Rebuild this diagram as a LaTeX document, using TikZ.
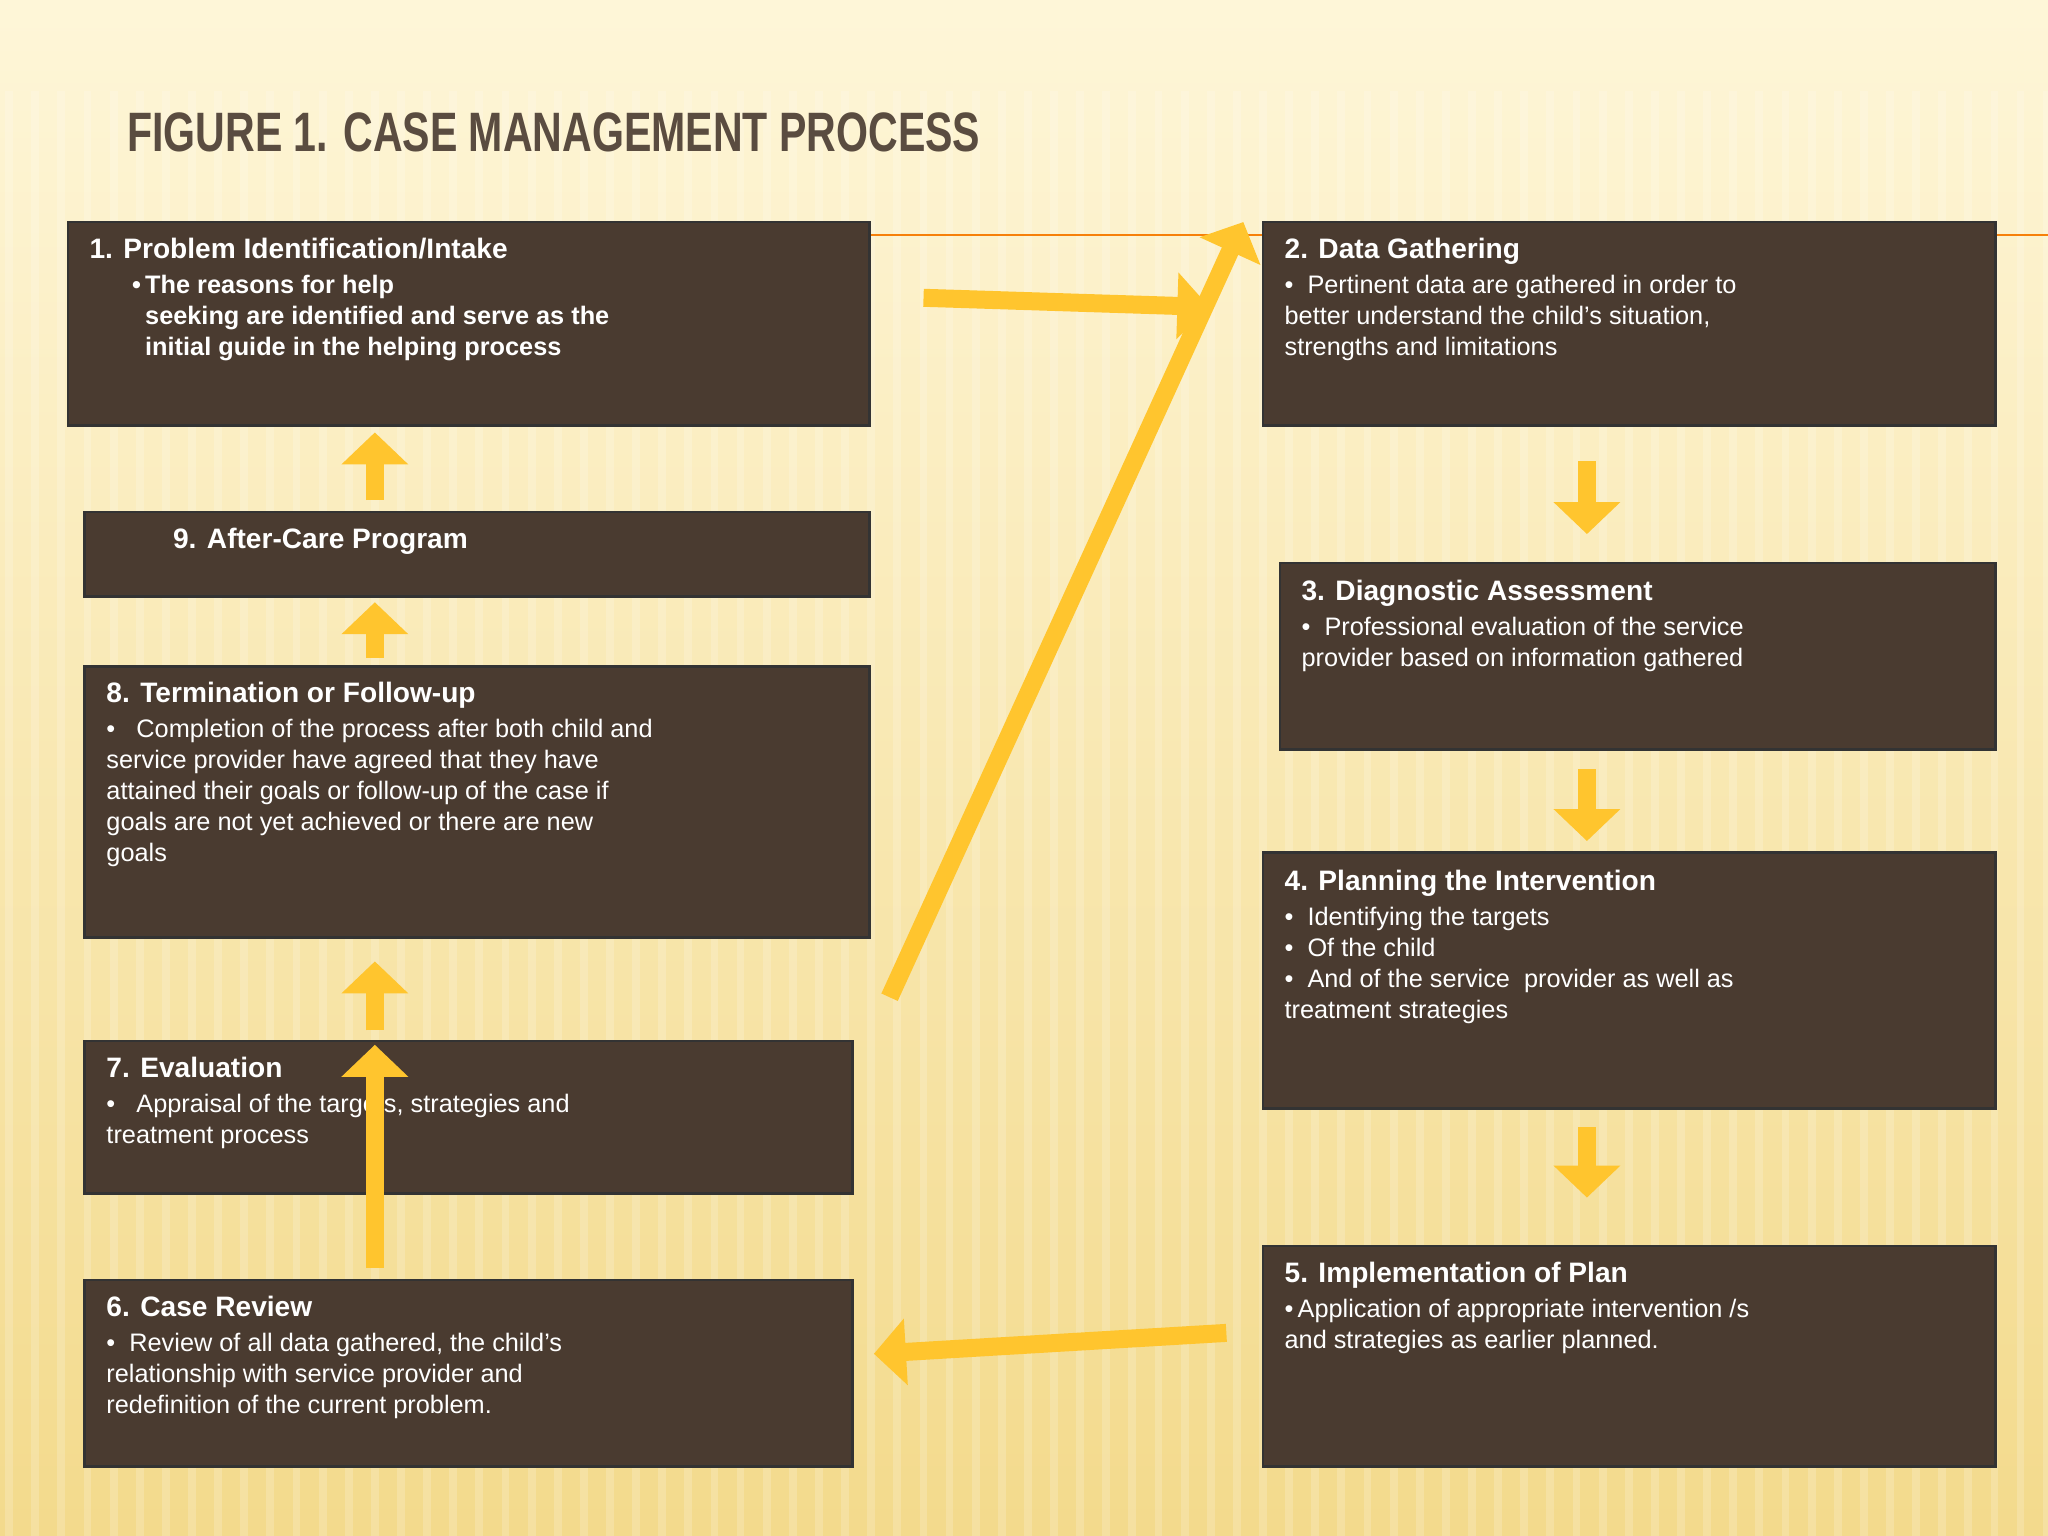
\documentclass[tikz,border=0pt]{standalone}
\usepackage{fontspec}
\setmainfont{Liberation Sans}
\usetikzlibrary{fit,arrows.meta}
\definecolor{boxbrown}{HTML}{4A3B30}
\definecolor{arrowyellow}{HTML}{FFC52E}
\definecolor{titlegray}{HTML}{5A4C40}
\definecolor{bgtop}{HTML}{FEF6D8}
\definecolor{bgbot}{HTML}{F3DA8C}
\tikzset{
  box/.style={draw=black!80, line width=0.8pt, fill=boxbrown, inner sep=0pt},
  boxtext/.style={anchor=north west, text=white, align=left, inner sep=0pt,
    font=\fontsize{7.2}{8.85}\selectfont},
  flow/.style={draw=arrowyellow, line width=1.8mm, -{Triangle[length=3.2mm,width=6.5mm]}},
}
% box from corner to corner, in reference pixels
\newcommand{\stepbox}[5]{%
  \coordinate (#1-a) at (#2,#3); \coordinate (#1-b) at (#4,#5);
  \node[box, fit=(#1-a)(#1-b)] (#1) {};}
\newcommand{\hd}[1]{{\fontsize{8}{9}\selectfont\bfseries #1}}
\begin{document}
\begin{tikzpicture}[x=0.01306cm, y=-0.01306cm]
\useasboundingbox (0,0) rectangle (1568,1176);
\shade[top color=bgtop, bottom color=bgbot] (0,0) rectangle (1568,1176);
\foreach \i in {0,...,78}
  \fill[white, opacity=0.18] (\i*20+4,70) rectangle (\i*20+10,1176);

\node[anchor=west, text=titlegray, font=\fontsize{15.8}{16}\selectfont\bfseries,
  xscale=0.74, transform shape, inner sep=0pt] (title) at (97,101)
  {FIGURE 1. CASE MANAGEMENT PROCESS};

% boxes
\stepbox{s1}{52}{170}{666}{326}
\stepbox{s2}{967}{170}{1528}{326}
\stepbox{s9}{65}{392}{666}{457}
\stepbox{s3}{980}{431}{1528}{574}
\stepbox{s8}{65}{510}{666}{718}
\stepbox{s4}{967}{653}{1528}{849}
\stepbox{s7}{65}{797}{653}{914}
\stepbox{s5}{967}{954}{1528}{1123}
\stepbox{s6}{65}{980}{653}{1123}

\coordinate (rim) at (1568,180);
\draw[orange!85!brown, line width=0.6pt] (s1.north east |- rim) -- (s2.north west |- rim);
\draw[orange!85!brown, line width=0.6pt] (s2.north east |- rim) -- (rim);

% texts
\node[boxtext] (t1) at (68,182) {\hd{1. Problem Identification/Intake}\\[1pt]
  \bfseries\hspace{2.2em}\llap{\textbullet\,}The reasons for help\\
  \bfseries\hspace{2.2em}seeking are identified and serve as the\\
  \bfseries\hspace{2.2em}initial guide in the helping process};
\node[boxtext] (t2) at (983,182) {\hd{2. Data Gathering}\\[1pt]
  \textbullet\ \ Pertinent data are gathered in order to\\
  better understand the child’s situation,\\ strengths and limitations};
\node[boxtext] (t9) at (132,404) {\hd{9. After-Care Program}};
\node[boxtext] (t3) at (996,444) {\hd{3. Diagnostic Assessment}\\[1pt]
  \textbullet\ \ Professional evaluation of the service\\
  provider based on information gathered};
\node[boxtext] (t8) at (81,522) {\hd{8. Termination or Follow-up}\\[1pt]
  \textbullet\ \ \ Completion of the process after both child and\\
  service provider have agreed that they have\\
  attained their goals or follow-up of the case if\\
  goals are not yet achieved or there are new\\ goals};
\node[boxtext] (t4) at (983,666) {\hd{4. Planning the Intervention}\\[1pt]
  \textbullet\ \ Identifying the targets\\
  \textbullet\ \ Of the child\\
  \textbullet\ \ And of the service\ \ provider as well as\\
  treatment strategies};
\node[boxtext] (t7) at (81,809) {\hd{7. Evaluation}\\[1pt]
  \textbullet\ \ \ Appraisal of the targets, strategies and\\ treatment process};
\node[boxtext] (t5) at (983,966) {\hd{5. Implementation of Plan}\\[1pt]
  \textbullet\,Application of appropriate intervention /s\\
  and strategies as earlier planned.};
\node[boxtext] (t6) at (81,992) {\hd{6. Case Review}\\[1pt]
  \textbullet\ \ Review of all data gathered, the child’s\\
  relationship with service provider and\\
  redefinition of the current problem.};

% connectors
\draw[flow] ([shift={(40,-20)}]s1.east) -- ([shift={(-40,-13)}]s2.west);
\draw[flow] ([yshift=-26*0.01306cm]s2.south -| 1215,0) -- ([yshift=21*0.01306cm]s3.north -| 1215,0);
\draw[flow] ([yshift=-14*0.01306cm]s3.south -| 1215,0) -- ([yshift=8*0.01306cm]s4.north -| 1215,0);
\draw[flow] ([yshift=-13*0.01306cm]s4.south -| 1215,0) -- ([yshift=36*0.01306cm]s5.north -| 1215,0);
\draw[flow] ([shift={(-27,-18)}]s5.west) -- ([shift={(15,-15)}]s6.east);
\draw[flow] ([yshift=8*0.01306cm]s6.north -| 287,0) -- ([yshift=-4*0.01306cm]s7.north -| 287,0);
\draw[flow] ([yshift=7*0.01306cm]s7.north -| 287,0) -- ([yshift=-17*0.01306cm]s8.south -| 287,0);
\draw[flow] ([yshift=5*0.01306cm]s8.north -| 287,0) -- ([yshift=-3*0.01306cm]s9.south -| 287,0);
\draw[flow] ([yshift=8*0.01306cm]s9.north -| 287,0) -- ([yshift=-4*0.01306cm]s1.south -| 287,0);
\draw[flow] ([shift={(27,-92)}]s7.east) -- ([shift={(-14,-78)}]s2.west);
\end{tikzpicture}
\end{document}
